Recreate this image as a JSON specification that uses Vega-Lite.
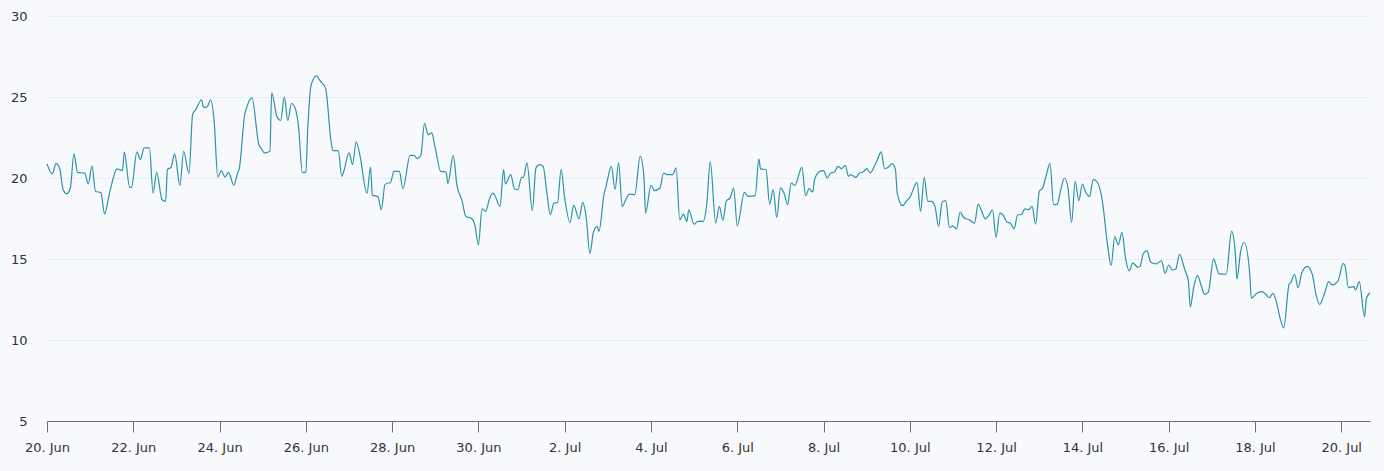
{
  "$schema": "https://vega.github.io/schema/vega-lite/v6.json",
  "autosize": "none",
  "width": 1323,
  "height": 405,
  "padding": {"left": 47, "top": 16, "right": 14, "bottom": 50},
  "background": "#f8f9fc",
  "config": {
    "view": {"stroke": null},
    "font": "DejaVu Sans"
  },
  "data": {
    "values": [
      {"h":0,"v":20.87},{"h":3,"v":20.25},{"h":5,"v":20.9},{"h":7,"v":20.6},{"h":9,"v":19.28},{"h":11,"v":19.03},{"h":13,"v":19.4},{"h":15,"v":21.49},{"h":17,"v":20.35},{"h":21,"v":20.3},{"h":23,"v":19.63},{"h":25,"v":20.74},{"h":27,"v":19.17},{"h":30,"v":19.1},{"h":32,"v":17.79},{"h":35,"v":19.17},{"h":39,"v":20.56},{"h":42,"v":20.45},{"h":43,"v":21.6},{"h":46,"v":19.42},{"h":47,"v":19.42},{"h":50,"v":21.6},{"h":52,"v":21.14},{"h":54,"v":21.86},{"h":57,"v":21.86},{"h":59,"v":19.07},{"h":61,"v":20.35},{"h":64,"v":18.66},{"h":66,"v":18.56},{"h":67,"v":20.52},{"h":69,"v":20.66},{"h":71,"v":21.49},{"h":74,"v":19.55},{"h":76,"v":21.65},{"h":79,"v":20.27},{"h":81,"v":23.92},{"h":83,"v":24.27},{"h":86,"v":24.83},{"h":87,"v":24.38},{"h":89,"v":24.38},{"h":91,"v":24.83},{"h":93,"v":23.5},{"h":95,"v":20.06},{"h":97,"v":20.45},{"h":99,"v":20.06},{"h":101,"v":20.35},{"h":104,"v":19.55},{"h":106,"v":20.3},{"h":107,"v":20.6},{"h":110,"v":23.92},{"h":111,"v":24.33},{"h":114,"v":24.95},{"h":118,"v":22.0},{"h":119,"v":21.86},
      {"h":121,"v":21.55},{"h":124,"v":21.65},{"h":125,"v":25.26},{"h":128,"v":23.76},{"h":130,"v":23.55},{"h":132,"v":24.99},{"h":134,"v":23.55},{"h":136,"v":24.6},{"h":138,"v":24.33},{"h":140,"v":23.1},{"h":142,"v":20.35},{"h":144,"v":20.35},{"h":145,"v":22.89},{"h":147,"v":25.78},{"h":150,"v":26.3},{"h":152,"v":25.99},{"h":155,"v":25.53},{"h":158,"v":22.27},{"h":159,"v":21.69},{"h":162,"v":21.69},{"h":164,"v":20.1},{"h":165,"v":20.37},{"h":168,"v":21.55},{"h":170,"v":20.83},{"h":172,"v":22.23},{"h":174,"v":21.44},{"h":178,"v":19.05},{"h":180,"v":20.68},{"h":181,"v":18.93},{"h":184,"v":18.86},{"h":186,"v":18.04},{"h":188,"v":19.59},{"h":190,"v":19.69},{"h":191,"v":19.69},{"h":193,"v":20.41},{"h":196,"v":20.41},{"h":198,"v":19.34},{"h":202,"v":21.4},{"h":204,"v":21.4},{"h":206,"v":21.2},{"h":208,"v":21.4},{"h":210,"v":23.38},{"h":212,"v":22.68},{"h":214,"v":22.79},{"h":216,"v":21.86},{"h":219,"v":20.41},{"h":222,"v":20.37},{"h":223,"v":19.67},{"h":226,"v":21.4},{"h":228,"v":19.59},{"h":231,"v":18.56},{"h":233,"v":17.63},{"h":236,"v":17.52},{"h":238,"v":17.11},{"h":240,"v":15.87},{"h":242,"v":18.1},{"h":244,"v":17.94},{"h":246,"v":18.66},{"h":248,"v":19.07},
      {"h":249,"v":18.95},{"h":252,"v":18.25},{"h":254,"v":20.52},{"h":255,"v":19.63},{"h":258,"v":20.21},{"h":260,"v":19.34},{"h":262,"v":19.28},{"h":264,"v":20.04},{"h":265,"v":20.04},{"h":267,"v":20.93},{"h":270,"v":17.98},{"h":272,"v":20.62},{"h":274,"v":20.83},{"h":276,"v":20.72},{"h":278,"v":19.17},{"h":280,"v":17.73},{"h":282,"v":18.45},{"h":284,"v":18.49},{"h":286,"v":20.52},{"h":288,"v":18.76},{"h":291,"v":17.25},{"h":293,"v":18.31},{"h":296,"v":17.48},{"h":298,"v":18.49},{"h":300,"v":17.52},{"h":302,"v":15.34},{"h":304,"v":16.66},{"h":306,"v":17.01},{"h":307,"v":16.7},{"h":310,"v":19.07},{"h":311,"v":19.48},{"h":314,"v":20.72},{"h":316,"v":19.28},{"h":318,"v":20.93},{"h":320,"v":18.25},{"h":322,"v":18.66},{"h":324,"v":19.0},{"h":327,"v":18.97},{"h":330,"v":21.34},{"h":332,"v":20.21},{"h":333,"v":17.83},{"h":336,"v":19.55},{"h":338,"v":19.22},{"h":341,"v":19.38},{"h":343,"v":20.31},{"h":345,"v":20.21},{"h":348,"v":20.21},{"h":350,"v":20.62},{"h":352,"v":17.42},{"h":354,"v":17.77},{"h":356,"v":17.32},{"h":357,"v":18.04},{"h":360,"v":17.15},{"h":362,"v":17.32},{"h":365,"v":17.32},{"h":367,"v":18.35},{"h":369,"v":20.99},{"h":372,"v":17.21},{"h":374,"v":18.25},
      {"h":376,"v":17.4},{"h":378,"v":18.6},{"h":380,"v":18.76},{"h":382,"v":19.38},{"h":384,"v":17.05},{"h":388,"v":19.11},{"h":390,"v":18.86},{"h":394,"v":18.91},{"h":396,"v":21.16},{"h":397,"v":20.56},{"h":400,"v":20.52},{"h":402,"v":18.39},{"h":404,"v":19.28},{"h":406,"v":17.56},{"h":408,"v":19.38},{"h":410,"v":19.07},{"h":412,"v":18.35},{"h":414,"v":19.69},{"h":416,"v":19.55},{"h":420,"v":20.66},{"h":422,"v":18.91},{"h":424,"v":19.34},{"h":426,"v":19.13},{"h":427,"v":19.9},{"h":430,"v":20.41},{"h":432,"v":20.45},{"h":434,"v":20.0},{"h":436,"v":20.31},{"h":438,"v":20.37},{"h":440,"v":20.72},{"h":442,"v":20.58},{"h":444,"v":20.78},{"h":446,"v":20.1},{"h":447,"v":20.21},{"h":450,"v":20.04},{"h":452,"v":20.31},{"h":454,"v":20.37},{"h":456,"v":20.58},{"h":458,"v":20.31},{"h":460,"v":20.66},{"h":462,"v":21.14},{"h":464,"v":21.61},{"h":466,"v":20.58},{"h":468,"v":20.66},{"h":470,"v":20.89},{"h":472,"v":20.52},{"h":473,"v":19.07},{"h":476,"v":18.29},{"h":478,"v":18.56},{"h":480,"v":18.8},{"h":484,"v":19.73},{"h":486,"v":17.94},{"h":488,"v":20.04},{"h":490,"v":18.56},{"h":492,"v":18.56},{"h":494,"v":18.25},{"h":496,"v":17.01},{"h":498,"v":18.51},{"h":500,"v":18.6},
      {"h":502,"v":16.95},{"h":504,"v":17.03},{"h":506,"v":16.86},{"h":508,"v":17.9},{"h":510,"v":17.56},{"h":513,"v":17.42},{"h":516,"v":17.21},{"h":518,"v":18.39},{"h":520,"v":17.94},{"h":522,"v":17.48},{"h":524,"v":17.69},{"h":526,"v":18.04},{"h":528,"v":16.33},{"h":530,"v":17.83},{"h":532,"v":17.69},{"h":534,"v":17.28},{"h":536,"v":17.21},{"h":538,"v":16.86},{"h":540,"v":17.73},{"h":542,"v":17.73},{"h":544,"v":18.1},{"h":546,"v":18.04},{"h":548,"v":18.25},{"h":550,"v":17.15},{"h":552,"v":19.17},{"h":554,"v":19.42},{"h":556,"v":20.21},{"h":558,"v":20.91},{"h":560,"v":18.35},{"h":562,"v":18.39},{"h":564,"v":19.28},{"h":566,"v":20.0},{"h":568,"v":19.38},{"h":570,"v":17.25},{"h":572,"v":19.79},{"h":574,"v":18.6},{"h":576,"v":19.63},{"h":578,"v":19.07},{"h":580,"v":18.86},{"h":582,"v":19.9},{"h":584,"v":19.79},{"h":587,"v":18.66},{"h":590,"v":15.87},{"h":592,"v":14.59},{"h":594,"v":16.39},{"h":596,"v":15.87},{"h":598,"v":16.64},{"h":600,"v":15.05},{"h":602,"v":14.26},{"h":604,"v":14.74},{"h":607,"v":14.49},{"h":608,"v":14.53},{"h":610,"v":15.36},{"h":612,"v":15.5},{"h":614,"v":14.8},{"h":617,"v":14.7},{"h":620,"v":14.88},{"h":622,"v":14.12},
      {"h":624,"v":14.63},{"h":626,"v":14.32},{"h":628,"v":14.38},{"h":630,"v":15.29},{"h":633,"v":14.32},{"h":635,"v":13.6},{"h":636,"v":12.05},{"h":638,"v":13.29},{"h":640,"v":13.97},{"h":642,"v":13.4},{"h":644,"v":12.82},{"h":646,"v":12.94},{"h":649,"v":15.01},{"h":650,"v":14.74},{"h":652,"v":14.08},{"h":656,"v":14.06},{"h":659,"v":16.7},{"h":661,"v":15.46},{"h":662,"v":13.75},{"h":664,"v":15.46},{"h":666,"v":16.02},{"h":669,"v":14.22},{"h":670,"v":12.57},{"h":673,"v":12.88},{"h":676,"v":12.98},{"h":678,"v":12.82},{"h":680,"v":12.61},{"h":682,"v":12.88},{"h":684,"v":12.32},{"h":686,"v":11.33},{"h":688,"v":10.75},{"h":691,"v":13.44},{"h":692,"v":13.56},{"h":694,"v":14.06},{"h":696,"v":13.23},{"h":698,"v":14.12},{"h":701,"v":14.55},{"h":704,"v":14.01},{"h":706,"v":12.78},{"h":708,"v":12.2},{"h":711,"v":12.98},{"h":713,"v":13.6},{"h":715,"v":13.4},{"h":718,"v":13.6},{"h":719,"v":13.91},{"h":721,"v":14.72},{"h":722,"v":14.63},{"h":724,"v":13.23},{"h":727,"v":13.29},{"h":728,"v":13.09},{"h":730,"v":13.6},{"h":733,"v":11.43},{"h":734,"v":12.57},{"h":736,"v":12.92}
    ]
  },
  "mark": {"type": "line", "interpolate": "monotone", "color": "#2b93a7", "strokeWidth": 1.2},
  "encoding": {
    "x": {
      "field": "h",
      "type": "quantitative",
      "scale": {"domain": [0, 736], "nice": false, "zero": false},
      "axis": {
        "title": null,
        "grid": false,
        "values": [0,48,96,144,192,240,288,336,384,432,480,528,576,624,672,720],
        "labelExpr": "timeFormat(datetime(2023, 5, 20 + datum.value / 24), '%-d. %b')",
        "labelFont": "DejaVu Sans",
        "labelFontSize": 13,
        "labelColor": "#333333",
        "labelPadding": 9,
        "labelFlush": false,
        "labelOverlap": false,
        "domainColor": "#6e6e6e",
        "domainWidth": 1,
        "tickColor": "#6e6e6e",
        "tickSize": 11,
        "tickWidth": 1
      }
    },
    "y": {
      "field": "v",
      "type": "quantitative",
      "scale": {"domain": [5, 30], "nice": false, "zero": false},
      "axis": {
        "title": null,
        "values": [5, 10, 15, 20, 25, 30],
        "grid": true,
        "gridColor": "#e6eef8",
        "gridWidth": 1,
        "domain": false,
        "ticks": false,
        "labelFont": "DejaVu Sans",
        "labelFontSize": 13,
        "labelColor": "#333333",
        "labelPadding": 20
      }
    }
  }
}
